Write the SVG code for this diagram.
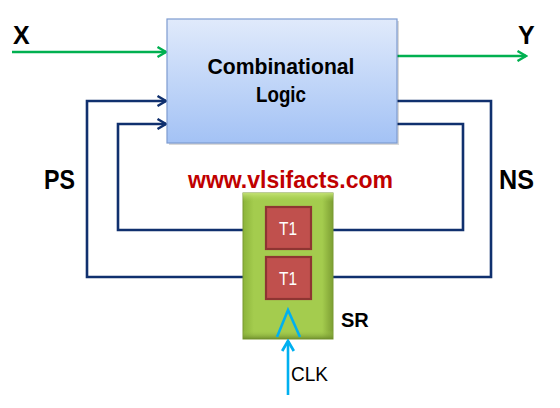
<svg xmlns="http://www.w3.org/2000/svg" width="560" height="408" viewBox="0 0 560 408">
<style>
.lbl{font-family:"Liberation Sans",Arial,sans-serif;font-weight:bold;fill:#000}
.nv{fill:none;stroke:#10306e;stroke-width:2.6}
.gr{fill:none;stroke:#00b050;stroke-width:2.6}
.t1{fill:#c0504d;stroke:#8e3532;stroke-width:2.2}
.t1t{font-family:"Liberation Sans",Arial,sans-serif;font-size:19px;fill:#fff;text-anchor:middle}
</style>
<defs>
<linearGradient id="cl" x1="0" y1="0" x2="0" y2="1">
<stop offset="0" stop-color="#e0eafb"/>
<stop offset="1" stop-color="#a3c2f5"/>
</linearGradient>
<linearGradient id="srg" x1="0" y1="0" x2="1" y2="0">
<stop offset="0" stop-color="#8cb43a"/>
<stop offset="0.12" stop-color="#a4cc4e"/>
<stop offset="0.88" stop-color="#a4cc4e"/>
<stop offset="1" stop-color="#7d9f33"/>
</linearGradient>
<linearGradient id="srv" x1="0" y1="0" x2="0" y2="1">
<stop offset="0" stop-color="#c8e67a" stop-opacity="0.9"/>
<stop offset="0.06" stop-color="#a4cc4e" stop-opacity="0"/>
<stop offset="0.94" stop-color="#a4cc4e" stop-opacity="0"/>
<stop offset="1" stop-color="#6b8a2a" stop-opacity="0.9"/>
</linearGradient>
<marker id="an" viewBox="0 0 12 12" refX="10.5" refY="6" markerWidth="12" markerHeight="12" markerUnits="userSpaceOnUse" orient="auto">
<path d="M2,1 L10.5,6 L2,11" fill="none" stroke="#10306e" stroke-width="2.4"/>
</marker>
<marker id="ag" viewBox="0 0 12 12" refX="10.5" refY="6" markerWidth="12" markerHeight="12" markerUnits="userSpaceOnUse" orient="auto">
<path d="M2,1 L10.5,6 L2,11" fill="none" stroke="#00b050" stroke-width="2.4"/>
</marker>
<marker id="ac" viewBox="0 0 12 12" refX="10.5" refY="6" markerWidth="14" markerHeight="14" markerUnits="userSpaceOnUse" orient="auto">
<path d="M2,1 L10.5,6 L2,11" fill="none" stroke="#00b0f0" stroke-width="2.4"/>
</marker>
</defs>

<g id="connectors">
<path class="gr" d="M12,52 H166" marker-end="url(#ag)"/>
<path class="gr" d="M397,56 H526" marker-end="url(#ag)"/>
<path class="nv" d="M266,277 H87 V101 H166" marker-end="url(#an)"/>
<path class="nv" d="M266,230 H118 V124 H166" marker-end="url(#an)"/>
<path class="nv" d="M397,101 H491 V277 H312" marker-end="url(#an)"/>
<path class="nv" d="M397,124 H463 V230 H312" marker-end="url(#an)"/>
</g>

<g id="comb">
<rect x="169" y="21" width="230" height="124" fill="#000" opacity="0.15"/>
<rect x="167" y="19" width="230" height="124" fill="url(#cl)" stroke="#7d9bd0" stroke-width="1.2"/>
<text class="lbl" x="281" y="74" font-size="22.5" text-anchor="middle" textLength="147" lengthAdjust="spacingAndGlyphs">Combinational</text>
<text class="lbl" x="281" y="102" font-size="22.5" text-anchor="middle" textLength="50" lengthAdjust="spacingAndGlyphs">Logic</text>
</g>

<g id="sr">
<rect x="243" y="193" width="90" height="146" fill="url(#srg)" stroke="#7a9a32" stroke-width="1"/>
<rect x="243" y="193" width="90" height="146" fill="url(#srv)"/>
</g>

<g id="t1a">
<rect class="t1" x="266" y="207" width="45" height="42"/>
<text class="t1t" x="288" y="235" textLength="18" lengthAdjust="spacingAndGlyphs">T1</text>
</g>
<g id="t1b">
<rect class="t1" x="266" y="257" width="45" height="42"/>
<text class="t1t" x="288" y="285" textLength="18" lengthAdjust="spacingAndGlyphs">T1</text>
</g>

<g id="clk">
<path d="M277,337 L288,310 L300,337" fill="none" stroke="#00b0f0" stroke-width="2.6"/>
<path d="M288,395 V341" fill="none" stroke="#00b0f0" stroke-width="2.6" marker-end="url(#ac)"/>
<text x="291" y="381" font-family="'Liberation Sans',Arial,sans-serif" font-size="21" fill="#000" textLength="37" lengthAdjust="spacingAndGlyphs">CLK</text>
</g>

<g id="labels">
<text class="lbl" x="13" y="44" font-size="25">X</text>
<text class="lbl" x="518" y="44" font-size="25">Y</text>
<text class="lbl" x="44" y="189" font-size="28" textLength="31" lengthAdjust="spacingAndGlyphs">PS</text>
<text class="lbl" x="499" y="189" font-size="28" textLength="35" lengthAdjust="spacingAndGlyphs">NS</text>
<text class="lbl" x="341" y="327" font-size="20">SR</text>
<text x="188" y="188" font-family="'Liberation Sans',Arial,sans-serif" font-weight="bold" font-size="24" fill="#c00000" textLength="205" lengthAdjust="spacingAndGlyphs">www.vlsifacts.com</text>
</g>
</svg>
